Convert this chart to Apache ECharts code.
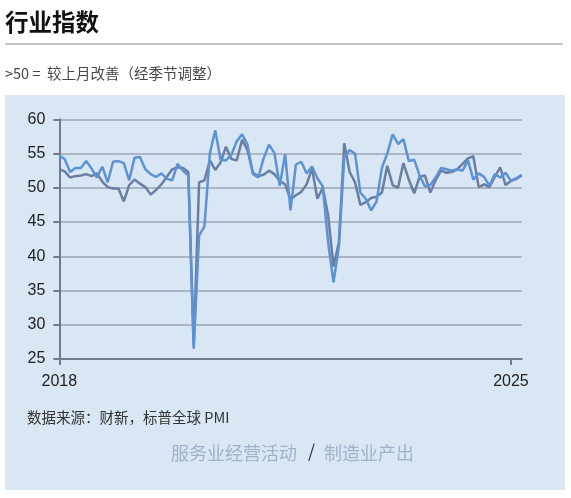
<!DOCTYPE html>
<html>
<head>
<meta charset="utf-8">
<script src="https://cdn.jsdelivr.net/npm/echarts@6/dist/echarts.min.js"></script>
<style>
  html, body { margin: 0; padding: 0; background: #ffffff; }
  #chart { width: 571px; height: 498px; }
</style>
</head>
<body>
<div id="chart"></div>
<script>
// ---- data ----
const years = [2018, 2019, 2020, 2021, 2022, 2023, 2024, 2025];
const lastMonth2025 = 3;
const months = [];
years.forEach(function (y) {
  const n = (y === 2025) ? lastMonth2025 : 12;
  for (let m = 1; m <= n; m++) months.push(y + '-' + (m < 10 ? '0' + m : m));
});

const xTickLabels = ['2018', '2025'];

// 服务业经营活动 (services business activity)
const services = [
  54.7, 54.2, 52.3, 52.9, 52.9, 53.9, 52.8, 51.5, 53.1, 50.8, 53.8, 53.9,
  53.6, 51.1, 54.4, 54.5, 52.7, 52.0, 51.6, 52.1, 51.3, 51.1, 53.5, 52.5,
  51.8, 26.5, 43.0, 44.4, 55.0, 58.4, 54.1, 54.0, 54.8, 56.8, 57.8, 56.3,
  52.0, 51.5, 54.3, 56.3, 55.1, 50.3, 54.9, 46.7, 53.4, 53.8, 52.1, 53.1,
  51.4, 50.2, 42.0, 36.2, 41.4, 54.5, 55.5, 55.0, 49.3, 48.4, 46.7, 48.0,
  52.9, 55.0, 57.8, 56.4, 57.1, 53.9, 54.1, 51.8, 50.2, 50.4, 51.5, 52.9,
  52.7, 52.5, 52.7, 52.5, 54.0, 51.2, 52.1, 51.6, 50.3, 52.0, 51.5, 52.2,
  51.0, 51.4, 51.9
];

// 制造业产出 (manufacturing output)
const manufacturing = [
  52.7, 52.4, 51.5, 51.7, 51.8, 52.0, 51.7, 52.1, 50.9, 50.1, 49.9, 49.9,
  48.0, 50.4, 51.2, 50.6, 50.1, 49.0, 49.7, 50.5, 51.6, 52.7, 53.0, 52.9,
  52.3, 27.0, 50.8, 51.1, 54.0, 52.6, 53.7, 56.0, 54.2, 54.0, 57.0, 55.5,
  52.2, 51.7, 51.9, 52.5, 52.0, 51.0, 50.5, 48.3, 48.9, 49.4, 50.5, 52.8,
  48.4, 50.0, 46.0, 38.5, 42.0, 56.5, 52.3, 50.8, 47.5, 47.9, 48.5, 48.7,
  49.3, 53.2, 50.4, 50.0, 53.6, 51.2, 49.2, 51.6, 51.8, 49.3, 51.1, 52.5,
  52.2, 52.3, 52.7, 53.5, 54.3, 54.6, 50.1, 50.5, 50.1, 51.6, 53.0, 50.4,
  51.0, 51.3, 51.8
];

const seriesNames = ['服务业经营活动', '制造业产出'];

// ---- chart ----
const chart = echarts.init(document.getElementById('chart'), null, { renderer: 'canvas' });
const cjk = "'Noto Sans CJK SC', 'Noto Sans', sans-serif";
const num = "'Liberation Sans', Arial, sans-serif";
const isTick = function (i) { return xTickLabels.indexOf(months[i].slice(0, 4)) >= 0 && months[i].slice(5) === '01'; };

chart.setOption({
  animation: false,
  backgroundColor: '#ffffff',
  title: [
    { text: '行业指数', left: 0, top: 5, padding: 5,
      textStyle: { fontSize: 23.5, fontWeight: 'bold', color: '#111111', fontFamily: cjk } },
    { text: '>50 =  较上月改善（经季节调整）', left: 0, top: 61, padding: 5,
      textStyle: { fontSize: 14.5, fontWeight: 'normal', color: '#474747', fontFamily: cjk } },
    { text: '数据来源：财新，标普全球 PMI', left: 22, top: 405, padding: 5,
      textStyle: { fontSize: 14.5, fontWeight: 'normal', color: '#333333', fontFamily: cjk } }
  ],
  graphic: [
    { type: 'rect', z: -10, silent: true,
      shape: { x: 5, y: 95, width: 560, height: 395 },
      style: { fill: '#d9e6f3' } },
    { type: 'line', z: -10, silent: true,
      shape: { x1: 5, y1: 44, x2: 563, y2: 44 },
      style: { stroke: '#8a8a8a', lineWidth: 1 } },
    { type: 'text', z: 10, left: 308, top: 442, silent: true,
      style: { text: '/', fontSize: 18, fill: '#333333', fontFamily: cjk } }
  ],
  legend: {
    data: seriesNames,
    left: 161, top: 439,
    icon: 'none', itemWidth: 0, itemHeight: 0, itemGap: 22,
    selectedMode: false,
    textStyle: { fontSize: 18, color: '#9fb2cb', fontFamily: cjk }
  },
  grid: { left: 59.3, right: 49.3, top: 119.3, bottom: 139, containLabel: false },
  xAxis: {
    type: 'category',
    data: months,
    boundaryGap: false,
    axisLine: { show: true, lineStyle: { color: '#707c8c', width: 2 } },
    axisTick: { show: true, length: 6, interval: function (i) { return isTick(i); },
      lineStyle: { color: '#707c8c', width: 2 } },
    axisLabel: { interval: function (i) { return isTick(i); },
      formatter: function (v) { return v.slice(0, 4); },
      fontSize: 16, color: '#222222', fontFamily: num, margin: 15 },
    splitLine: { show: false }
  },
  yAxis: {
    type: 'value',
    min: 25, max: 60, interval: 5,
    axisLine: { show: true, lineStyle: { color: '#707c8c', width: 2 } },
    axisTick: { show: true, length: 6, lineStyle: { color: '#707c8c', width: 2 } },
    axisLabel: { fontSize: 16, color: '#222222', fontFamily: num, margin: 14 },
    splitLine: { show: true, lineStyle: { color: '#aab6c5', width: 2 } }
  },
  series: [
    { name: seriesNames[1], type: 'line', data: manufacturing, showSymbol: false,
      lineStyle: { width: 2.5, color: '#6a7ea2' }, itemStyle: { color: '#6a7ea2' }, z: 3 },
    { name: seriesNames[0], type: 'line', data: services, showSymbol: false,
      lineStyle: { width: 2.5, color: '#5d92d4' }, itemStyle: { color: '#5d92d4' }, z: 4 }
  ]
});
</script>
</body>
</html>
